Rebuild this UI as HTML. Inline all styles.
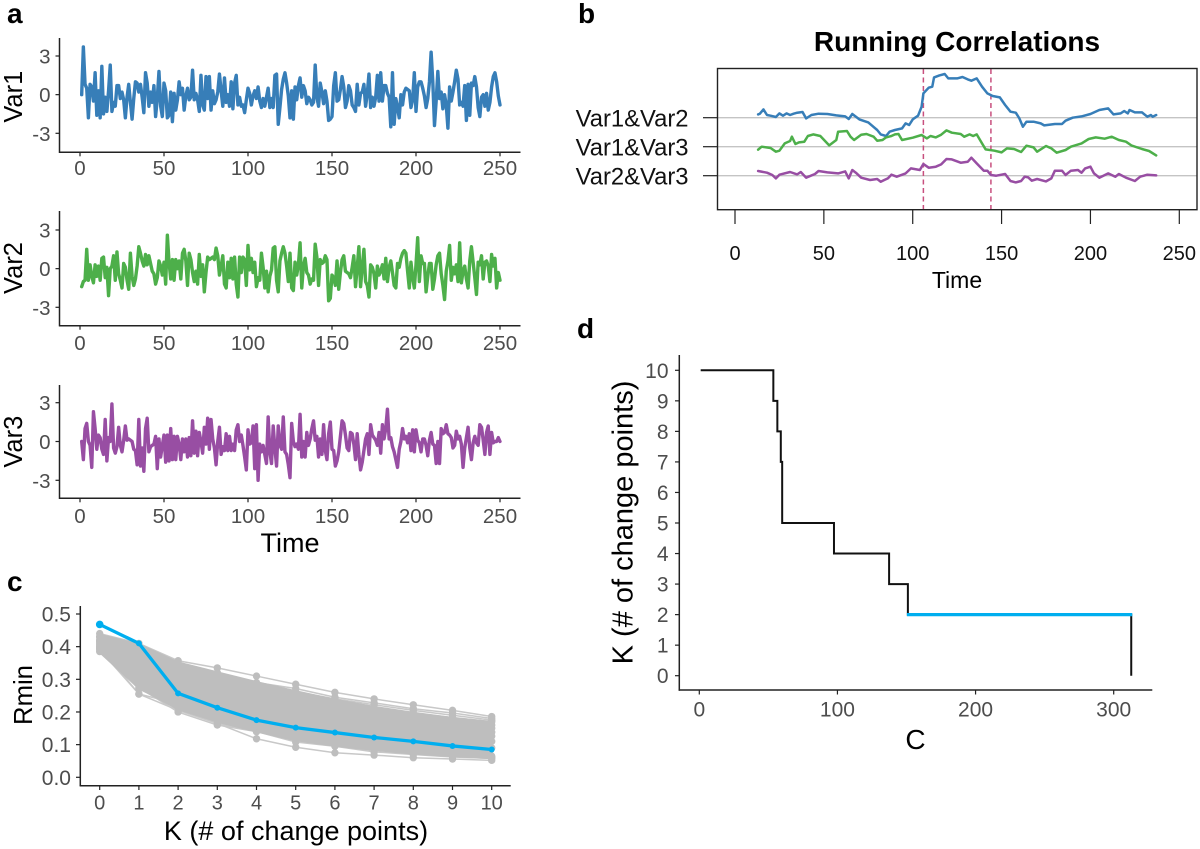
<!DOCTYPE html>
<html lang="en">
<head>
<meta charset="utf-8">
<title>Running correlations and change point analysis</title>
<style>
html,body{margin:0;padding:0;background:#fff;width:1200px;height:849px;overflow:hidden}
svg{display:block;font-family:"Liberation Sans",Arial,sans-serif}
</style>
</head>
<body>
<svg id="figure" xmlns="http://www.w3.org/2000/svg" width="1200" height="849" viewBox="0 0 1200 849">
  <rect x="0" y="0" width="1200" height="849" fill="#fff"/>
  <g id="layer"></g>
  <g font-weight="700" font-size="28" fill="#000">
    <text x="7" y="23">a</text>
    <text x="578" y="23">b</text>
    <text x="7" y="591">c</text>
    <text x="577" y="338">d</text>
  </g>
  <g fill="#000">
    <text font-size="25.5" text-anchor="middle" transform="translate(22,96.7) rotate(-90)">Var1</text>
    <text font-size="25.5" text-anchor="middle" transform="translate(22,268) rotate(-90)">Var2</text>
    <text font-size="25.5" text-anchor="middle" transform="translate(22,441.7) rotate(-90)">Var3</text>
    <text font-size="27" text-anchor="middle" x="290" y="552">Time</text>
    <text font-size="28" font-weight="700" text-anchor="middle" x="957" y="51">Running Correlations</text>
    <text font-size="23" text-anchor="middle" x="957" y="288">Time</text>
    <text font-size="25.7" text-anchor="middle" transform="translate(32,695) rotate(-90)">Rmin</text>
    <text font-size="27" text-anchor="middle" x="296" y="840">K (# of change points)</text>
    <text font-size="29" text-anchor="middle" transform="translate(632.7,522.5) rotate(-90)">K (# of change points)</text>
    <text font-size="28" text-anchor="middle" x="915.5" y="749">C</text>
  </g>
</svg>
<script>
/* ---------- Panel a: raw time series ---------- */
const var1Values = [
0,3.7,0.8,0.5,-1.8,0.8,0.6,-0.5,1.7,-1.6,
0.3,-1.8,2.2,-1.5,-0.2,-1.3,0.3,2.3,-1.3,-0.6,
-0.9,0.7,0.7,-0.3,0.2,-0.4,-1.8,-0.2,0.8,-0.6,
-1.9,-0.3,1.0,0.9,0.2,0.8,-0.2,-1.4,1.7,0.9,
-0.9,0.2,-0.6,0.7,-1.7,-0.3,1.8,-0.9,-1.7,0.9,
0.3,-1.8,-1.6,0.2,-2.1,0.1,-1.2,-0.4,1.0,0,
0.5,-1.2,-0.1,0.5,-0.4,-0.2,1.9,-0.4,0.1,-0.4,
-1.3,1.5,-0.8,-1.2,1.4,-0.3,1.4,-1.2,0.3,-0.7,
-0.4,0.2,1.6,0.3,-0.9,1.3,-0.6,0,-0.9,1.0,
-1.1,0.9,1.5,-0.8,-0.2,-0.9,-0.8,-1.4,-0.4,0.5,
0.1,-0.8,-0.1,0.3,-0.3,0.6,-0.5,-1.0,-0.3,-0.9,
-0.2,0.5,-1.0,-0.3,-1.0,1.5,1.6,-2.3,-1.0,0.4,
1.2,1.7,0.9,-0.1,-1.8,0.3,-1.9,0.6,-0.4,0.7,
1.3,-0.2,0.7,0.3,-0.7,-0.2,-0.4,-0.8,-0.6,2.3,
-0.2,-0.9,0.9,0.2,-0.7,0.3,-0.5,-2.0,-1.9,-1.7,
0.7,1.7,-0.5,-0.4,0.4,1.4,0.6,-1.0,-0.5,0.7,
0.3,-0.8,-1.0,-1.3,0.8,-0.8,0.1,0.2,0.8,-0.9,
0.1,1.6,-1.0,-0.2,-0.9,-0.2,1.5,-0.5,1.7,-0.5,
0.7,0.7,0.1,-0.2,-2.5,1.7,-2.3,-0.3,-1.0,-1.8,
0,-0.8,0.2,0.5,0.4,0.3,-1.0,-0.4,1.7,-1.3,
0.6,1.0,1.0,0.5,-0.1,-1.0,-0.3,1.0,3.3,1.0,
-2.4,-0.5,1.8,-0.3,0.2,-1.1,0,-0.8,-2.6,0.6,
-0.5,0.2,1.0,1.9,1.2,-0.8,-0.6,-0.9,0.7,-2.0,
0.8,-1.6,0.9,0.7,1.4,0.6,-1.0,-1.7,-0.2,0,
-0.9,0.1,-1.2,-0.6,0.6,1.4,1.7,1.0,-0.1,-0.8];
const var2Values = [
-1.4,-1.0,-0.9,1.5,-0.9,0.3,-0.6,-1.1,0.3,-0.6,
0.2,-0.9,0.8,0.9,-0.7,0.1,-2.1,0,0.2,1.0,
-0.9,1.3,-0.4,-0.9,-1.5,0.4,0.1,-0.9,-1.6,1.2,
-0.6,-1.3,-0.8,0.2,1.7,1.2,0.6,0.2,1.1,0.3,
1.0,0.4,-0.2,-0.4,-1.2,-0.7,0.6,0.2,-0.5,0.5,
-1.2,2.6,0.5,-0.8,0.7,-0.9,0.7,0,0.6,-0.8,
1.2,1.5,0.6,-1.3,1.2,0.7,-0.3,-1.0,-0.2,-1.2,
1.1,-0.6,0.3,-1.8,-0.3,0.9,0.7,0.8,0.9,0.7,
1.6,1.0,-0.5,0.2,1.0,-1.2,-1.5,0.5,-0.7,0.8,
-0.8,0.9,-1.2,-2.2,0.9,-0.3,0.9,0.7,-1.3,1.8,
-0.1,0.8,-0.3,0.5,-1.4,-0.7,-0.9,1.2,0.1,-1.5,
-0.2,-1.8,-0.6,-0.1,1.6,1.7,-0.9,-1.8,0.6,1.2,
1.7,1.2,0.2,-1.0,1.2,-1.5,-1.7,0.5,-0.5,0.3,
2.0,-1.5,0.2,0.8,-0.3,-0.5,-1.2,-0.8,-0.9,1.9,
0.9,-1.3,0.7,0.4,0.5,1.0,0.7,-2.5,-2.3,-0.5,
-0.7,-1.3,0.6,-1.6,-0.3,0.7,1.0,-0.2,-0.3,-0.4,
-0.7,0.1,1.0,-1.4,0.1,1.7,-1.4,0.1,1.5,-1.0,
-1.3,-2.2,0.3,0.1,-0.4,-1.5,0.2,-0.5,-0.2,0.3,
-0.8,0.8,-1.0,0.1,0.6,-0.3,-1.3,-1.5,0.4,0.1,
0.8,1.2,1.4,1.2,-0.2,-1.5,0.5,-0.7,-1.5,0.3,
2.4,-1.0,1.0,0.4,0.4,-1.8,-0.6,0.4,0.4,-1.6,
-0.8,0.3,1.0,1.2,-0.4,-1.3,-2.4,-0.2,0.6,1.8,
-0.9,0.1,-0.4,0.3,-1.0,2.0,-1.1,-0.2,0.2,-0.8,
-1.5,0.6,1.7,0.5,-0.7,-2.0,0.5,0.3,1.0,-0.8,
0.5,0.6,0.2,-1.0,1.1,0.2,0.8,-1.5,-0.3,-0.9];
const var3Values = [
0,-1.4,1.0,1.4,0,-0.3,-2.0,2.3,1.0,-0.6,
0.5,0.3,-0.6,-1.0,1.7,-1.5,0.3,0,2.9,-0.5,
-0.9,-0.4,1.1,-0.3,-0.8,0.1,1.2,0.1,0.2,0.1,
0,-0.6,-0.7,-1.8,1.7,-1.9,-0.5,-2.3,1.0,1.8,
-0.8,-0.4,-0.3,-0.2,0.4,-2.1,0.2,-1.2,-0.3,0.5,
-1.6,0.5,-1.5,1.0,-1.4,0.4,-1.4,0.4,-0.2,-1.4,
0.2,-0.8,0.2,-1.2,0.3,-1.1,1.6,-0.9,0.8,-1.1,
0.7,0,-0.9,1.1,-0.2,1.8,-0.6,1.7,0.2,-0.5,
-1.8,0,1.1,-1,-0.4,-0.7,0.6,-0.7,0.4,-0.7,
-0.2,-0.7,0.9,1.3,0,0.5,-0.3,-1.2,-2.2,0.9,
-0.2,-0.1,1.2,-2.1,1.3,-3.0,-0.2,-0.8,-0.3,-1.0,
-1.7,1.9,-0.8,-1.7,1.2,-0.5,-1.9,1.2,-0.3,-0.6,
1.9,-0.8,-1.0,-1.8,-2.8,1.4,0,-0.4,-0.2,-0.6,
2.1,-1.2,0,-1.2,0.7,-0.3,0.2,1.0,1.6,0.1,
0.4,-1.2,0.2,-1.0,1.3,-0.7,-1.4,0.6,1.5,-0.6,
-0.7,-1.9,-1.5,-0.8,0.4,1.6,1.4,0.5,-0.5,-0.7,
0.7,0.6,-0.2,-1.4,0.6,-1.0,-2.2,-1.6,-0.7,0.2,
0.6,-1.0,1.3,0.5,0.3,0.1,-0.3,0.7,-0.9,1.3,
0.2,1.0,2.5,0.2,0.3,-0.4,-0.8,-1.4,-2.0,-0.6,
0,1.0,0.2,0.4,-0.1,0.6,-0.7,0.9,-0.8,0.9,
0.1,-0.1,-0.8,0.2,0.2,-0.3,-1.1,0.1,0.7,-0.2,
-0.3,-1.7,0,-1.7,1.0,0.6,0.7,1.3,0.6,0.5,
0.3,-0.5,-0.3,0.8,0.2,0.4,-0.2,-2.0,-0.5,0.3,
1.1,-0.5,-1.4,-0.1,0.4,-0.1,-0.3,1.3,1.1,0.1,
-1.0,0.7,1.2,-1.0,0.7,-0.1,0,0,0.3,0];
const timeTicks = [0,50,100,150,200,250];
const varTicks = [3,0,-3];

/* ---------- Panel b: running correlations ---------- */
const corrPairs = ["Var1&Var2","Var1&Var3","Var2&Var3"];
const corr12Times = [13,14,16,18,20,23,25,27,29,31,33,35,38,40,43,47,52,57,62,64,66,70,75,80,82,85,87,90,94,96,98,100,103,105,106,109,111,112,115,118,120,125,128,131,133,136,139,142,145,149,152,155,158,160,162,164,168,172,174,180,184,186,190,195,200,205,210,213,217,219,221,222,225,229,232,234,235,237];
const corr12Values = [0.33,0.4,0.83,0.27,0.2,0.07,0.43,0.2,0.43,0.27,0.4,0.5,0.57,-0.07,0.27,0.4,0.37,0.23,0.13,-0.13,0.37,-0.17,-0.47,-1.23,-1.67,-1.83,-1.4,-1.23,-1.07,-0.57,-0.73,-0.17,0.2,1.1,2.43,3,3.1,4.03,4.23,4.37,3.93,3.93,4.07,3.83,3.7,3.93,3.1,2.43,2.17,2.03,1.27,0.6,0.5,-0.07,-0.9,-0.4,-0.4,-0.57,-0.77,-0.63,-0.63,-0.3,0,0.13,0.37,0.77,0.93,0.33,0.43,0.67,0.43,0.77,0.53,0.53,0.1,0.27,0.1,0.27];
const corr13Times = [13,15,20,23,25,28,31,32,34,36,39,41,44,48,53,57,58,63,65,67,71,74,78,80,83,85,88,90,92,94,100,105,108,110,113,116,119,122,127,129,132,134,136,139,141,146,150,153,157,161,164,168,170,175,178,181,186,189,195,199,203,208,212,216,220,223,229,233,237];
const corr13Values = [-0.3,0,-0.13,-0.5,-0.4,0.33,0.57,1,0.27,0.43,0.5,1.07,1.23,1.07,0.13,0.67,1.5,1.57,1,0.67,1.2,1.27,1,0.6,0.67,0.93,1.07,1.23,1.27,0.67,0.9,1.17,0.83,1.07,0.93,1.2,1.63,1.4,1.27,1,1.23,1.07,1.23,0.33,-0.27,-0.4,-0.57,-0.17,-0.23,-0.53,0.1,-0.07,-0.5,0.07,-0.17,-0.6,-0.33,0,0.33,0.77,0.93,0.8,1,0.67,0.5,0.13,-0.23,-0.43,-0.87];
const corr23Times = [13,18,21,23,25,31,35,37,40,45,47,52,58,62,64,66,68,71,76,80,82,84,86,88,91,96,99,104,106,109,113,116,119,122,127,131,133,136,140,142,144,147,152,155,158,161,163,165,167,170,175,178,180,184,186,189,193,195,197,200,202,205,210,214,216,220,225,228,232,237];
const corr23Values = [0.47,0.3,0.07,-0.27,0.1,0.37,0.13,0.37,-0.2,0.17,0.47,0.33,0.23,0.43,-0.27,0.57,0.3,-0.2,-0.43,-0.33,-0.6,-0.43,-0.27,0.1,-0.1,0.23,0.73,0.57,1.17,0.8,0.9,1.13,1.67,1.63,1.3,1.4,1.8,1.23,0.5,0.5,0.07,0,0.17,-0.53,-0.67,-0.53,-0.1,-0.17,-0.5,-0.33,-0.57,-0.27,0.5,0.5,0.07,0.5,0.57,0.3,0.73,0.9,0.23,-0.2,0.23,-0.1,0.17,-0.2,-0.53,-0.1,0.1,0.03];
const changePointTimes = [106,144];

/* ---------- Panel c: Rmin against K ---------- */
const kTicks = [0,1,2,3,4,5,6,7,8,9,10];
const rminTicks = [0.5,0.4,0.3,0.2,0.1,0.0];
const rminCoreUpper = [0.435,0.405,0.35,0.32,0.29,0.262,0.236,0.214,0.196,0.18,0.168];
const rminCoreLower = [0.385,0.275,0.21,0.172,0.142,0.115,0.098,0.085,0.074,0.066,0.06];
const nullRun01 = [0.44,0.41,0.357,0.335,0.31,0.285,0.26,0.24,0.222,0.205,0.186];
const nullRun02 = [0.43,0.405,0.35,0.32,0.29,0.272,0.245,0.228,0.21,0.197,0.18];
const nullRun03 = [0.42,0.405,0.345,0.31,0.285,0.262,0.24,0.222,0.205,0.19,0.175];
const nullRun04 = [0.43,0.39,0.34,0.3,0.275,0.25,0.23,0.212,0.197,0.183,0.17];
const nullRun05 = [0.41,0.37,0.32,0.285,0.255,0.235,0.215,0.2,0.185,0.172,0.16];
const nullRun06 = [0.42,0.35,0.3,0.265,0.24,0.22,0.2,0.185,0.172,0.16,0.15];
const nullRun07 = [0.405,0.33,0.28,0.25,0.225,0.205,0.185,0.172,0.16,0.148,0.138];
const nullRun08 = [0.415,0.31,0.26,0.23,0.205,0.185,0.17,0.158,0.147,0.136,0.126];
const nullRun09 = [0.4,0.3,0.245,0.21,0.185,0.165,0.15,0.138,0.127,0.118,0.11];
const nullRun10 = [0.395,0.285,0.23,0.195,0.165,0.145,0.13,0.118,0.108,0.098,0.09];
const nullRun11 = [0.4,0.255,0.225,0.165,0.118,0.092,0.075,0.068,0.06,0.056,0.052];
const nullRun12 = [0.39,0.255,0.205,0.165,0.14,0.108,0.095,0.078,0.07,0.062,0.058];
const nullRun13 = [0.385,0.275,0.2,0.16,0.14,0.12,0.1,0.088,0.078,0.066,0.06];
const nullRun14 = [0.395,0.27,0.215,0.175,0.15,0.125,0.105,0.09,0.08,0.07,0.065];
const observedRmin = [0.468,0.41,0.257,0.213,0.175,0.152,0.137,0.122,0.11,0.096,0.085];

/* ---------- Panel d: K against C ---------- */
const kStepTicks = [0,1,2,3,4,5,6,7,8,9,10];
const cTicks = [0,100,200,300];
const cStepValues = [1,53.6,56.5,59,60,97.5,137.4,151,312.7];
const kStepValues = [10,9,8,7,5,4,3,2,0];
const selectedK = 2;

/* ---------- Drawing ---------- */
const NS = 'http://www.w3.org/2000/svg';
const layer = document.getElementById('layer');
function linearScale(d0, d1, r0, r1) {
  return function (v) { return r0 + (v - d0) * (r1 - r0) / (d1 - d0); };
}
function makeLine(parent, name, x1, y1, x2, y2, stroke, width, dash) {
  const el = document.createElementNS(NS, 'line');
  
  
  el.setAttribute('x1', x1);
  el.setAttribute('y1', y1);
  el.setAttribute('x2', x2);
  el.setAttribute('y2', y2);
  el.setAttribute('stroke', stroke);
  el.setAttribute('stroke-width', width);
  if (dash) el.setAttribute('stroke-dasharray', dash);
  parent.appendChild(el);
  return el;
}
function makeText(parent, name, x, y, str, size, fill, anchor) {
  const el = document.createElementNS(NS, 'text');
  
  
  el.setAttribute('x', x);
  el.setAttribute('y', y);
  el.setAttribute('font-size', size);
  el.setAttribute('fill', fill);
  el.setAttribute('text-anchor', anchor);
  el.textContent = str;
  parent.appendChild(el);
  return el;
}
function makePath(parent, name, xs, ys, stroke, width, join) {
  const el = document.createElementNS(NS, 'path');
  
  
  let d = '';
  for (let i = 0; i < xs.length; i++) d += (i ? 'L' : 'M') + xs[i].toFixed(2) + ' ' + ys[i].toFixed(2);
  el.setAttribute('d', d);
  el.setAttribute('fill', 'none');
  el.setAttribute('stroke', stroke);
  el.setAttribute('stroke-width', width);
  el.setAttribute('stroke-linejoin', join || 'round');
  el.setAttribute('stroke-linecap', join === 'miter' ? 'butt' : 'round');
  parent.appendChild(el);
  return el;
}
function makeCircle(parent, name, cx, cy, r, fill) {
  const el = document.createElementNS(NS, 'circle');
  
  
  el.setAttribute('cx', cx);
  el.setAttribute('cy', cy);
  el.setAttribute('r', r);
  el.setAttribute('fill', fill);
  parent.appendChild(el);
  return el;
}
function makeGroup(name) {
  const el = document.createElementNS(NS, 'g');
  
  
  layer.appendChild(el);
  return el;
}

const AXIS = '#222';
const TICKTXT = '#4d4d4d';
const GREY = '#bebebe';

/* Panel a */
function drawVarPanel(key, values, color, top, axisY, y3, yM3, labelBase) {
  const g = makeGroup(key + '-panel');
  const sx = linearScale(0, 250, 80, 500);
  const sy = linearScale(3, -3, y3, yM3);
  timeTicks.forEach(function (t) {
    makeLine(g, key + '-x-tick', sx(t), axisY, sx(t), axisY + 4, AXIS, 1.2);
    makeText(g, key + '-x-tick-label', sx(t), labelBase, String(t), 20.5, TICKTXT, 'middle');
  });
  varTicks.forEach(function (v) {
    makeLine(g, key + '-y-tick', 55.5, sy(v), 59.5, sy(v), AXIS, 1.2);
    makeText(g, key + '-y-tick-label', 50.5, sy(v) + 7.5, String(v), 20.5, TICKTXT, 'end');
  });
  makeLine(g, key + '-y-axis', 59.5, top, 59.5, axisY + 0.7, AXIS, 1.5);
  makeLine(g, key + '-x-axis', 59, axisY, 520.5, axisY, AXIS, 1.5);
  const xs = values.map(function (v, i) { return sx(i + 1); });
  const ys = values.map(function (v) { return sy(v); });
  makePath(g, key + '-line', xs, ys, color, 3.4, 'round');
}
drawVarPanel('var1', var1Values, '#377EB8', 38, 152.3, 56, 133.3, 175);
drawVarPanel('var2', var2Values, '#4DAF4A', 211, 325.7, 230, 307.3, 350);
drawVarPanel('var3', var3Values, '#984EA3', 385, 498.3, 402.7, 480.3, 523);

/* Panel b */
(function () {
  const g = makeGroup('running-correlations-panel');
  const sx = linearScale(0, 250, 735, 1179.3);
  const rowY = [117.7, 146.7, 175.7];
  const offsetY = linearScale(0, 1, 0, -10);
  const labelBase = [126.5, 155.5, 184.5];
  corrPairs.forEach(function (p, i) {
    makeLine(g, 'baseline-' + (i + 1), 717.5, rowY[i], 1197, rowY[i], '#c4c4c4', 1.3);
    makeLine(g, 'pair-tick-' + (i + 1), 703, rowY[i], 717.5, rowY[i], AXIS, 1.2);
    makeText(g, 'pair-label-' + (i + 1), 688.5, labelBase[i], p, 23.8, '#111', 'end');
  });
  changePointTimes.forEach(function (t) {
    makeLine(g, 'change-point-marker', sx(t), 69, sx(t), 209, '#c8507e', 1.5, '5 3.5');
  });
  const sets = [[corr12Times, corr12Values, '#377EB8', 'var1-var2-line'],
                [corr13Times, corr13Values, '#4DAF4A', 'var1-var3-line'],
                [corr23Times, corr23Values, '#984EA3', 'var2-var3-line']];
  sets.forEach(function (s, i) {
    makePath(g, s[3], s[0].map(sx), s[1].map(function (v) { return rowY[i] + offsetY(v); }), s[2], 2.5, 'round');
  });
  timeTicks.forEach(function (t) {
    makeLine(g, 'correlation-x-tick', sx(t), 209.7, sx(t), 224, AXIS, 1.2);
    makeText(g, 'correlation-x-tick-label', sx(t), 260, String(t), 20, '#111', 'middle');
  });
  const box = document.createElementNS(NS, 'rect');
  
  
  box.setAttribute('x', 717.5);
  box.setAttribute('y', 68.5);
  box.setAttribute('width', 479.5);
  box.setAttribute('height', 141.2);
  box.setAttribute('fill', 'none');
  box.setAttribute('stroke', AXIS);
  box.setAttribute('stroke-width', 1.4);
  g.appendChild(box);
})();

/* Panel c */
(function () {
  const g = makeGroup('rmin-panel');
  const sx = linearScale(0, 10, 99.7, 491.7);
  const sy = linearScale(0, 0.5, 777.3, 614);
  const runs = [nullRun01, nullRun02, nullRun03, nullRun04, nullRun05, nullRun06, nullRun07,
                nullRun08, nullRun09, nullRun10, nullRun11, nullRun12, nullRun13, nullRun14];
  runs.forEach(function (run, r) {
    makePath(g, 'null-run-' + (r + 1), run.map(function (v, i) { return sx(i); }), run.map(sy), '#c8c8c8', 1.5, 'round');
    run.forEach(function (v, i) {
      makeCircle(g, 'null-run-point', sx(i), sy(v), 3.7, GREY);
    });
  });
  const band = document.createElementNS(NS, 'polygon');
  
  
  const pts = [];
  rminCoreUpper.forEach(function (v, i) { pts.push(sx(i).toFixed(2) + ',' + sy(v).toFixed(2)); });
  for (let i = rminCoreLower.length - 1; i >= 0; i--) pts.push(sx(i).toFixed(2) + ',' + sy(rminCoreLower[i]).toFixed(2));
  band.setAttribute('points', pts.join(' '));
  band.setAttribute('fill', GREY);
  band.setAttribute('stroke', GREY);
  band.setAttribute('stroke-width', 3);
  band.setAttribute('stroke-linejoin', 'round');
  g.appendChild(band);
  makePath(g, 'observed-rmin-line', observedRmin.map(function (v, i) { return sx(i); }), observedRmin.map(sy), '#00AEEF', 3.3, 'round');
  observedRmin.forEach(function (v, i) {
    makeCircle(g, 'observed-rmin-point', sx(i), sy(v), i === 0 ? 3.8 : 3, '#00AEEF');
  });
  kTicks.forEach(function (k) {
    makeLine(g, 'rmin-x-tick', sx(k), 785.7, sx(k), 790, AXIS, 1.2);
    makeText(g, 'rmin-x-tick-label', sx(k), 809.5, String(k), 20, TICKTXT, 'middle');
  });
  rminTicks.forEach(function (v) {
    makeLine(g, 'rmin-y-tick', 76, sy(v), 80.3, sy(v), AXIS, 1.2);
    makeText(g, 'rmin-y-tick-label', 71, sy(v) + 7.5, v.toFixed(1), 21, TICKTXT, 'end');
  });
  makeLine(g, 'rmin-y-axis', 80.3, 606, 80.3, 786.3, AXIS, 1.5);
  makeLine(g, 'rmin-x-axis', 79.7, 785.7, 510.7, 785.7, AXIS, 1.5);
})();

/* Panel d */
(function () {
  const g = makeGroup('stability-panel');
  const sx = linearScale(0, 300, 699.3, 1113.7);
  const sy = linearScale(0, 10, 675.7, 370.3);
  const xs = [];
  const ys = [];
  cStepValues.forEach(function (c, i) {
    if (i > 0) { xs.push(sx(c)); ys.push(sy(kStepValues[i - 1])); }
    xs.push(sx(c));
    ys.push(sy(kStepValues[i]));
  });
  makePath(g, 'stability-step-line', xs, ys, '#111', 2, 'miter');
  const selIdx = kStepValues.indexOf(selectedK);
  makeLine(g, 'selected-k-segment', sx(cStepValues[selIdx]) - 1, sy(selectedK), sx(cStepValues[selIdx + 1]) + 1, sy(selectedK), '#00AEEF', 3.3);
  kStepTicks.forEach(function (k) {
    makeLine(g, 'stability-y-tick', 675, sy(k), 679.3, sy(k), AXIS, 1.2);
    makeText(g, 'stability-y-tick-label', 668.5, sy(k) + 7.5, String(k), 21, TICKTXT, 'end');
  });
  cTicks.forEach(function (c) {
    makeLine(g, 'stability-x-tick', sx(c), 690, sx(c), 694.5, AXIS, 1.2);
    makeText(g, 'stability-x-tick-label', sx(c), 716.5, String(c), 21, TICKTXT, 'middle');
  });
  makeLine(g, 'stability-y-axis', 679.3, 355, 679.3, 690.7, AXIS, 1.5);
  makeLine(g, 'stability-x-axis', 678.7, 690, 1152.3, 690, AXIS, 1.5);
})();
</script>
</body>
</html>
